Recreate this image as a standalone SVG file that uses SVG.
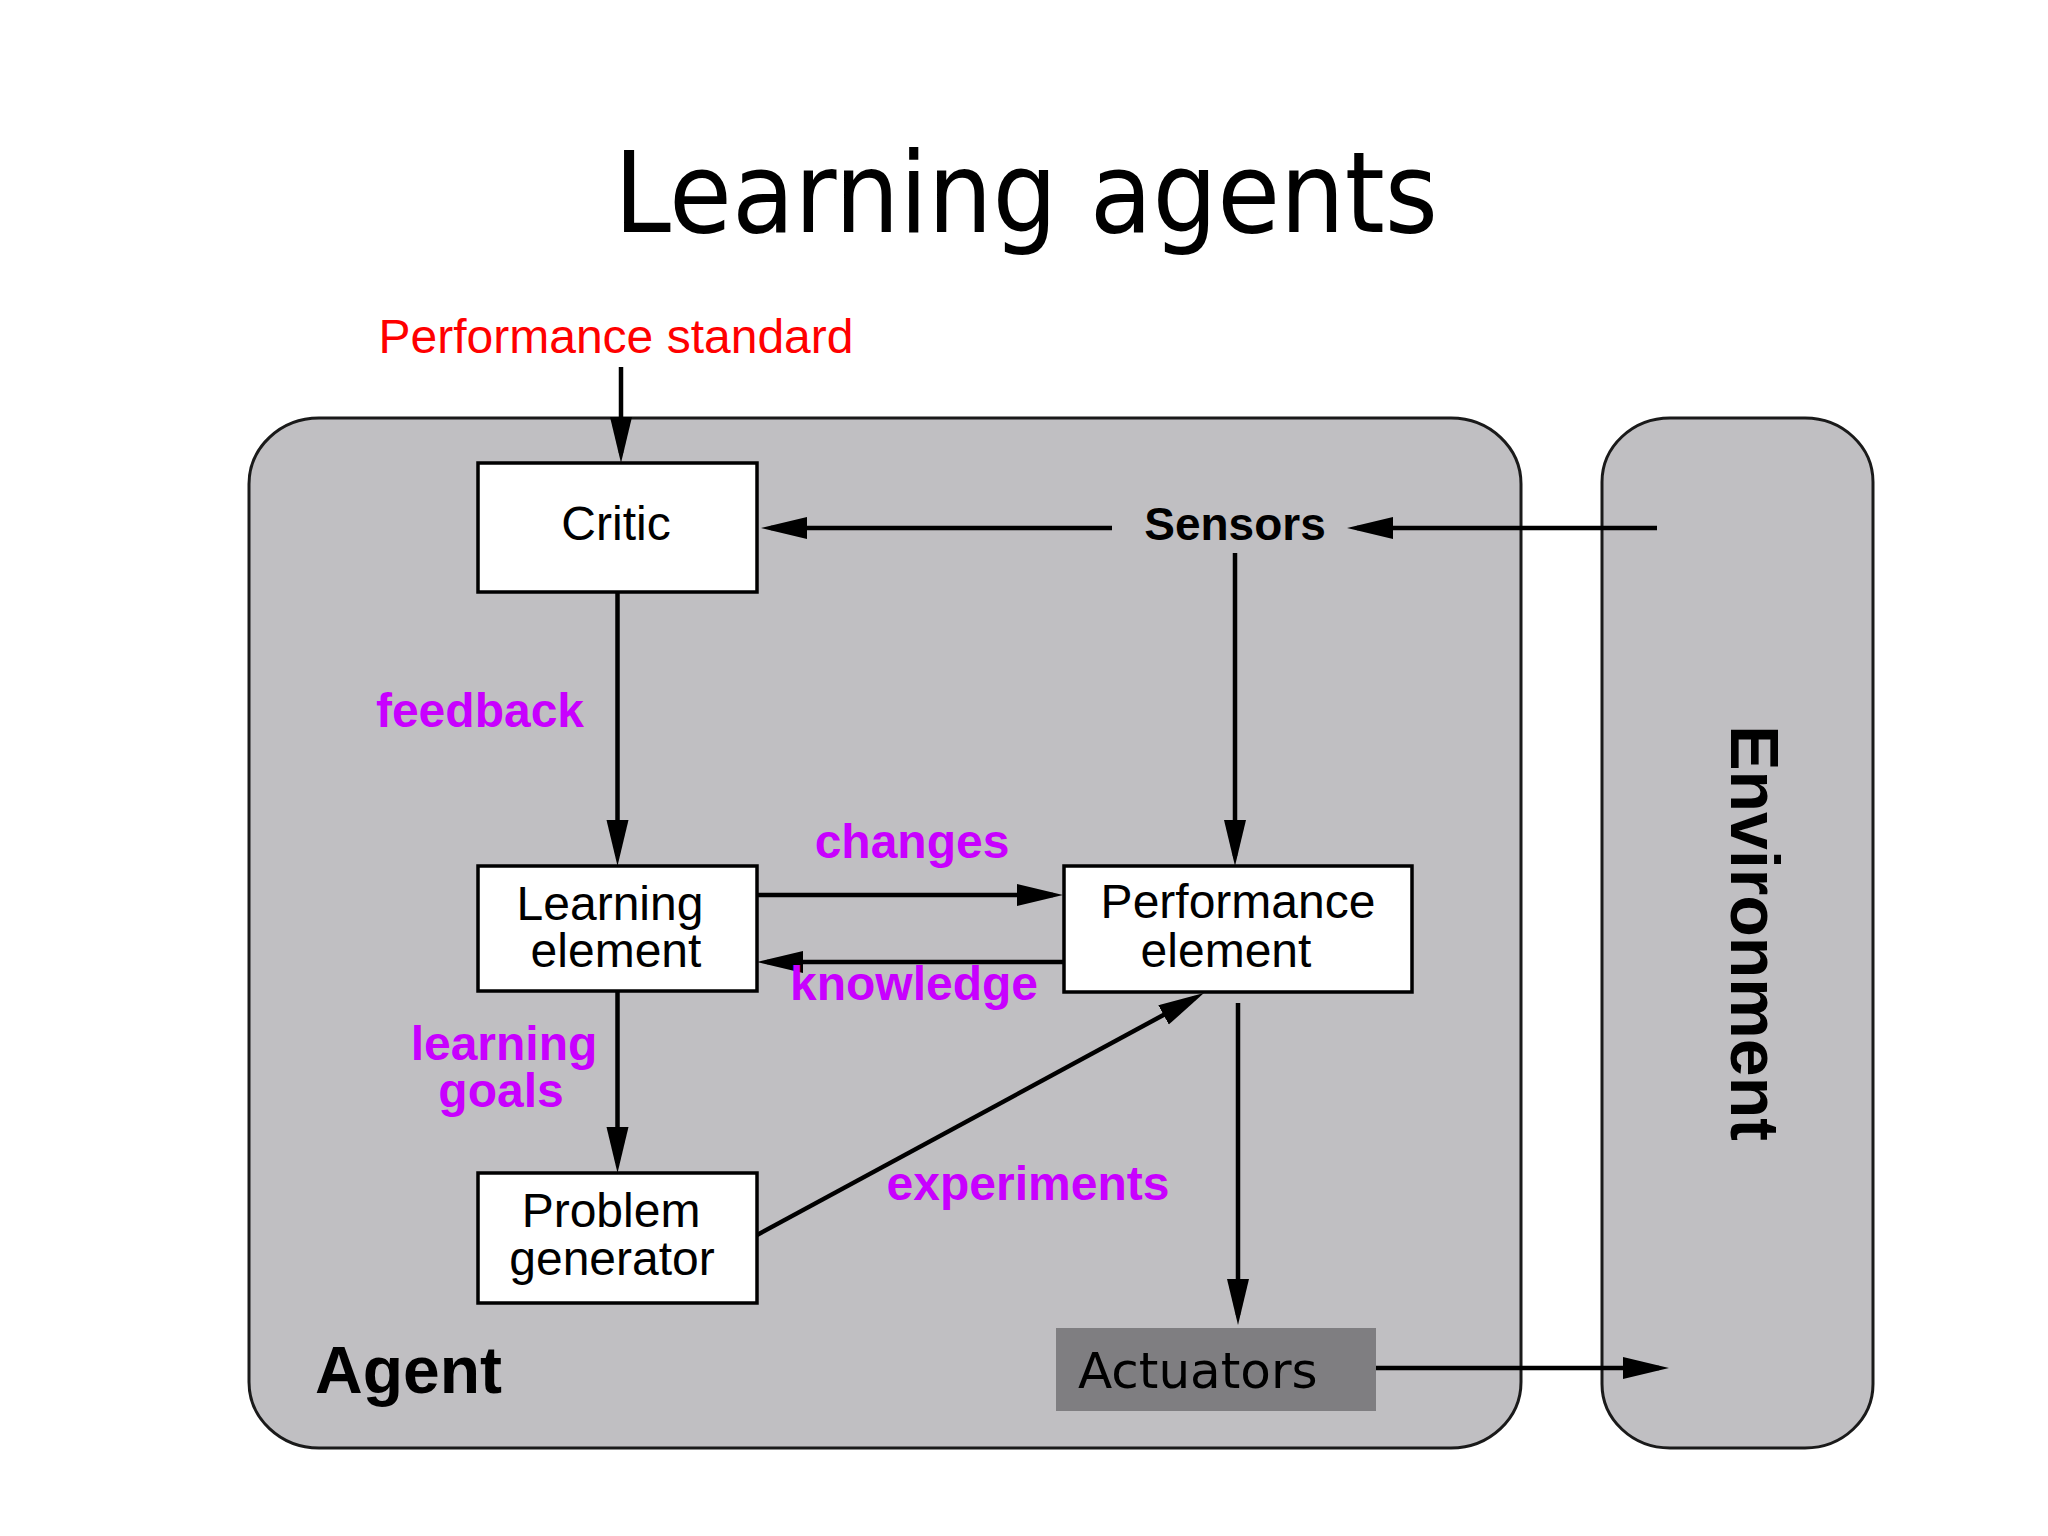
<svg xmlns="http://www.w3.org/2000/svg" width="2048" height="1536" viewBox="0 0 2048 1536">
  <defs>
    <marker id="ah" markerUnits="userSpaceOnUse" markerWidth="48" markerHeight="24" refX="36" refY="11" orient="auto" viewBox="0 0 48 24">
      <path d="M0,0 L46,11 L0,22 z" fill="#000"/>
    </marker>
    <style>
      .container { fill: #C0BFC2; stroke: #1a1a1a; stroke-width: 3; }
      .box { fill: #ffffff; stroke: #000; stroke-width: 3.5; }
      .boxtext { font-family: "Liberation Sans", Arial, sans-serif; font-size: 48px; fill: #000; text-anchor: middle; }
      .edge { fill: none; stroke: #000; stroke-width: 4.5; marker-end: url(#ah); }
      .lbl { font-family: "Liberation Sans", Arial, sans-serif; font-weight: bold; font-size: 48px; fill: #C800FF; text-anchor: middle; }
    </style>
  </defs>
  <rect x="0" y="0" width="2048" height="1536" fill="#ffffff"/>

  <text id="title" x="1026" y="232" font-family="'Comic Sans MS', 'DejaVu Sans', sans-serif" font-size="112" textLength="824" lengthAdjust="spacingAndGlyphs" text-anchor="middle" fill="#000">Learning agents</text>

  <g id="agent">
    <rect class="container" x="249" y="418" width="1272" height="1030" rx="70" ry="66"/>
    <text x="315" y="1393" font-family="'Liberation Sans', Arial, sans-serif" font-weight="bold" font-size="66" fill="#000">Agent</text>
  </g>

  <g id="environment">
    <rect class="container" x="1602" y="418" width="271" height="1030" rx="68" ry="64"/>
    <text transform="translate(1731,933) rotate(90)" x="0" y="0" font-family="'Liberation Sans', Arial, sans-serif" font-weight="bold" font-size="68" text-anchor="middle" fill="#000">Environment</text>
  </g>

  <g id="performance-standard">
    <text x="616" y="353" font-family="'Liberation Sans', Arial, sans-serif" font-size="48" text-anchor="middle" fill="#FF0000">Performance standard</text>
  </g>

  <g id="critic">
    <rect class="box" x="478" y="463" width="279" height="129"/>
    <text class="boxtext" x="616" y="540">Critic</text>
  </g>

  <g id="sensors">
    <text x="1235" y="540" font-family="'Liberation Sans', Arial, sans-serif" font-weight="bold" font-size="46" text-anchor="middle" fill="#000">Sensors</text>
  </g>

  <g id="learning-element">
    <rect class="box" x="478" y="866" width="279" height="125"/>
    <text class="boxtext" x="610" y="920">Learning</text>
    <text class="boxtext" x="616" y="967">element</text>
  </g>

  <g id="performance-element">
    <rect class="box" x="1064" y="866" width="348" height="126"/>
    <text class="boxtext" x="1238" y="918">Performance</text>
    <text class="boxtext" x="1226" y="967">element</text>
  </g>

  <g id="problem-generator">
    <rect class="box" x="478" y="1173" width="279" height="130"/>
    <text class="boxtext" x="611" y="1227">Problem</text>
    <text class="boxtext" x="612" y="1275">generator</text>
  </g>

  <g id="actuators">
    <rect x="1056" y="1328" width="320" height="83" fill="#7F7E81"/>
    <text x="1078" y="1388" font-family="'DejaVu Sans', Verdana, sans-serif" font-size="50" fill="#000">Actuators</text>
  </g>

  <g id="connectors">
    <line class="edge" x1="621" y1="367" x2="621" y2="453"/>
    <line class="edge" x1="1657" y1="528" x2="1357" y2="528"/>
    <line class="edge" x1="1112" y1="528" x2="771" y2="528"/>
    <line class="edge" x1="1235" y1="553" x2="1235" y2="856"/>
    <line class="edge" x1="617.5" y1="592" x2="617.5" y2="856"/>
    <line class="edge" x1="757" y1="895" x2="1053" y2="895"/>
    <line class="edge" x1="1064" y1="962" x2="767" y2="962"/>
    <line class="edge" x1="617.5" y1="991" x2="617.5" y2="1163"/>
    <line class="edge" x1="757" y1="1235" x2="1195.2" y2="997.8"/>
    <line class="edge" x1="1238" y1="1003" x2="1238" y2="1315"/>
    <line class="edge" x1="1376" y1="1368" x2="1659" y2="1368"/>
  </g>

  <g id="labels">
    <text class="lbl" x="480" y="727">feedback</text>
    <text class="lbl" x="912" y="858">changes</text>
    <text class="lbl" x="914" y="1000">knowledge</text>
    <text class="lbl" x="504" y="1060">learning</text>
    <text class="lbl" x="501" y="1107">goals</text>
    <text class="lbl" x="1028" y="1200">experiments</text>
  </g>
</svg>
